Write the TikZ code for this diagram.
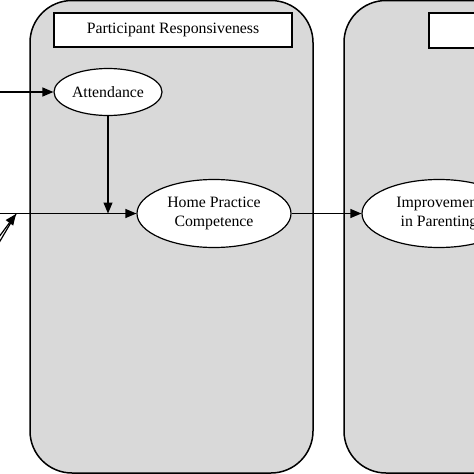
\documentclass[tikz,border=0pt]{standalone}
\usepackage{fontspec}
\setmainfont{Liberation Serif}
\usetikzlibrary{shapes.geometric, arrows.meta}

\tikzset{
  panel/.style={draw=black, fill=gray!30, line width=1.5pt, rounded corners=42pt},
  titlebox/.style={draw=black, fill=white, line width=1.2pt},
  construct/.style={draw=black, fill=white, ellipse, line width=1.2pt, inner sep=0pt, align=center},
  link/.style={draw=black, line width=1.2pt, -{Triangle[length=11pt, width=9pt]}},
}

\begin{document}
\begin{tikzpicture}[x=1pt, y=-1pt, font=\fontsize{15.8}{19}\selectfont]
    \useasboundingbox (0, 0) rectangle (474, 474);
    \clip (0, 0) rectangle (474, 474);

    \coordinate (PA1) at (30, 0.5);
    \coordinate (PA2) at (313, 473);
    \coordinate (PB1) at (344, 0.5);
    \coordinate (PB2) at (640, 473);

    \coordinate (inA) at (-5, 92);
    \coordinate (inB) at (-5, 213.5);
    \coordinate (J) at (108, 213.5);
    \coordinate (T) at (16, 214);
    \coordinate (S1) at (-10, 249);
    \coordinate (S2) at (-10, 258);

    \draw [panel] (PA1) rectangle (PA2);
    \draw [panel] (PB1) rectangle (PB2);
    \draw [titlebox] (54, 13) rectangle (292, 47);
    \draw [titlebox] (429, 13) rectangle (667, 48);

    \node (title) at (173, 30) {Participant Responsiveness};

    \node [construct, minimum width=108pt, minimum height=47pt] (att) at (108, 92) {Attendance};
    \node [construct, minimum width=154pt, minimum height=68pt] (hpc) at (214, 213.5) {Home Practice\\Competence};
    \node [construct, minimum width=154pt, minimum height=68pt] (imp) at (439, 213.5) {Improvement\\in Parenting};

    \draw [link] (inA) -- (att);
    \draw [link] (inB) -- (hpc);
    \draw [link] (att) -- (J);
    \draw [link] (hpc) -- (imp);
    \draw [link] (S1) -- (T);
    \draw [draw=black, line width=1.2pt] (S2) -- (T);
  \end{tikzpicture}
\end{document}
